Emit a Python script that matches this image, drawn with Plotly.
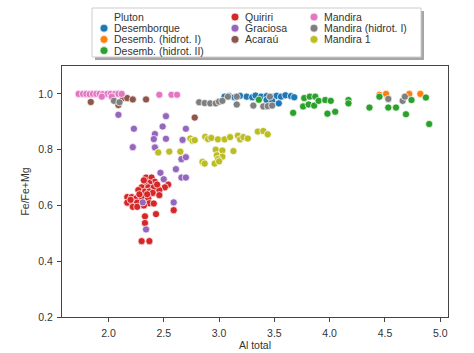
import plotly.graph_objects as go

# ---------------- data ----------------
desemborque_x = [3.05, 3.09, 3.14, 3.19, 3.25, 3.30, 3.33, 3.38, 3.43, 3.48, 3.52, 3.56, 3.60, 3.65, 3.68, 3.43, 3.48, 3.54]
desemborque_y = [0.990, 0.992, 0.988, 0.993, 0.990, 0.988, 0.994, 0.990, 0.992, 0.989, 0.993, 0.990, 0.995, 0.992, 0.988, 0.978, 0.975, 0.966]

hidrot1_x = [4.45, 4.51, 4.72, 4.82]
hidrot1_y = [0.997, 1.000, 1.000, 1.000]

hidrot2_x = [3.36, 3.77, 3.82, 3.87, 3.76, 3.81, 3.86, 3.90, 3.96, 4.01, 3.67, 3.98, 4.05, 4.17, 4.17, 4.36, 4.45, 4.53, 4.60, 4.69, 4.74, 4.87, 4.90]
hidrot2_y = [0.979, 0.985, 0.990, 0.990, 0.955, 0.962, 0.958, 0.975, 0.978, 0.975, 0.932, 0.929, 0.936, 0.978, 0.966, 0.951, 0.990, 0.951, 0.951, 0.927, 0.978, 0.987, 0.892]

quiriri_x = [2.34, 2.39, 2.42, 2.37, 2.33, 2.30, 2.36, 2.41, 2.54, 2.51, 2.46, 2.27, 2.33, 2.37, 2.40, 2.17, 2.21, 2.25, 2.30, 2.36,
             2.46, 2.17, 2.22, 2.26, 2.37, 2.41, 2.22, 2.26, 2.32, 2.59, 2.43, 2.33, 2.33, 2.30, 2.37, 2.28, 2.32, 2.44, 2.20, 2.35]
quiriri_y = [0.700, 0.700, 0.685, 0.680, 0.675, 0.665, 0.665, 0.665, 0.675, 0.665, 0.655, 0.655, 0.650, 0.650, 0.645, 0.630, 0.630, 0.625, 0.628, 0.625,
             0.637, 0.610, 0.612, 0.610, 0.608, 0.607, 0.595, 0.595, 0.600, 0.583, 0.569, 0.561, 0.537, 0.472, 0.472, 0.640, 0.690, 0.675, 0.620, 0.640]

graciosa_x = [2.09, 2.52, 2.23, 2.49, 2.70, 2.42, 2.41, 2.52, 2.67, 2.22, 2.42, 2.66, 2.70, 2.61, 2.47, 2.50, 2.66, 2.70, 2.31, 2.59, 2.34]
graciosa_y = [0.925, 0.920, 0.875, 0.883, 0.875, 0.856, 0.838, 0.839, 0.835, 0.809, 0.808, 0.766, 0.773, 0.730, 0.717, 0.694, 0.700, 0.700, 0.611, 0.611, 0.514]

acarau_x = [1.84, 2.09, 2.13, 2.17, 2.22, 2.34, 2.78]
acarau_y = [0.971, 0.960, 0.985, 0.985, 0.980, 0.980, 0.915]

mandira_x = [1.73, 1.77, 1.80, 1.83, 1.86, 1.89, 1.92, 1.95, 1.99, 2.02, 2.06, 2.09, 2.12, 1.94, 2.03, 2.46, 2.57, 2.62]
mandira_y = [1.000, 1.000, 1.000, 0.999, 1.000, 1.000, 1.000, 0.999, 1.000, 1.000, 1.000, 1.000, 1.000, 0.990, 0.990, 0.997, 0.997, 0.997]

mandira_h1_x = [2.05, 2.10, 2.82, 2.87, 2.92, 2.97, 3.00, 3.03, 3.08, 3.16, 3.16, 3.31, 3.40, 3.44, 3.48, 3.46, 4.53, 4.66, 4.68]
mandira_h1_y = [0.975, 0.970, 0.970, 0.967, 0.966, 0.966, 0.972, 0.975, 0.990, 0.962, 0.990, 0.958, 0.955, 0.956, 0.958, 0.990, 0.982, 0.975, 0.990]

mandira1_x = [2.45, 2.55, 2.65, 2.74, 2.76, 2.78, 2.875, 2.90, 2.93, 2.99, 3.05, 3.10, 3.17, 3.19, 3.22, 3.26, 3.35, 3.40, 3.44,
              2.97, 3.03, 3.13, 2.98, 3.03, 2.99, 2.85, 2.87, 2.96, 3.00]
mandira1_y = [0.790, 0.793, 0.793, 0.840, 0.832, 0.834, 0.846, 0.838, 0.842, 0.837, 0.837, 0.845, 0.850, 0.837, 0.845, 0.840, 0.865, 0.867, 0.855,
              0.800, 0.797, 0.795, 0.780, 0.775, 0.766, 0.756, 0.750, 0.750, 0.758]

x_ticks = [2.0, 2.5, 3.0, 3.5, 4.0, 4.5, 5.0]
y_ticks = [0.2, 0.4, 0.6, 0.8, 1.0]

legend_title = "Pluton"
series = [
    ("Desemborque", desemborque_x, desemborque_y, "#1f77b4"),
    ("Desemb. (hidrot. I)", hidrot1_x, hidrot1_y, "#ff7f0e"),
    ("Desemb. (hidrot. II)", hidrot2_x, hidrot2_y, "#2ca02c"),
    ("Quiriri", quiriri_x, quiriri_y, "#d62728"),
    ("Graciosa", graciosa_x, graciosa_y, "#9467bd"),
    ("Acaraú", acarau_x, acarau_y, "#8c564b"),
    ("Mandira", mandira_x, mandira_y, "#e377c2"),
    ("Mandira (hidrot. I)", mandira_h1_x, mandira_h1_y, "#7f7f7f"),
    ("Mandira 1", mandira1_x, mandira1_y, "#bcbd22"),
]

# ---------------- figure ----------------
W, H = 474, 353
ML, MR, MT, MB = 62, 26, 66, 36
PW, PH = W - ML - MR, H - MT - MB
FONT = "Liberation Sans, Arial, sans-serif"
TXT = "#333333"

fig = go.Figure()
for name, xs, ys, col in series:
    fig.add_trace(go.Scatter(
        x=xs, y=ys, mode="markers", name=name, showlegend=False,
        marker=dict(color=col, size=7.2, line=dict(color="white", width=0.7)),
    ))

axis_common = dict(
    showline=True, mirror=True, linecolor="#444", linewidth=1,
    ticks="outside", ticklen=4, tickwidth=1, tickcolor="#444",
    showgrid=False, zeroline=False, automargin=False,
    tickfont=dict(size=10.5, color=TXT, family=FONT),
    tickformat=".1f",
)

fig.update_layout(
    width=W, height=H,
    margin=dict(l=ML, r=MR, t=MT, b=MB, autoexpand=False),
    paper_bgcolor="white", plot_bgcolor="white",
    font=dict(family=FONT, size=11, color=TXT),
    xaxis=dict(range=[1.58, 5.07], tickvals=x_ticks, ticklabelstandoff=2,
               title=dict(text="Al total", font=dict(size=10.5), standoff=3), **axis_common),
    yaxis=dict(range=[0.2, 1.1], tickvals=y_ticks, ticklabelstandoff=2,
               title=dict(text="Fe/Fe+Mg", font=dict(size=10.5), standoff=6), **axis_common),
    showlegend=False,
)

# ---------------- legend drawn as layout shapes/annotations ----------------
def px2paper_x(px):
    return (px - ML) / PW

def py2paper_y(py):
    return (H - MB - py) / PH

box_l, box_r, box_t, box_b = 92, 421, 8, 57
# shadow
fig.add_shape(type="rect", xref="paper", yref="paper",
              x0=px2paper_x(box_l + 3), x1=px2paper_x(box_r + 3),
              y0=py2paper_y(box_b + 3), y1=py2paper_y(box_t + 3),
              fillcolor="rgba(0,0,0,0.35)", line=dict(width=0), layer="above")
# box
fig.add_shape(type="rect", xref="paper", yref="paper",
              x0=px2paper_x(box_l), x1=px2paper_x(box_r),
              y0=py2paper_y(box_b), y1=py2paper_y(box_t),
              fillcolor="white", line=dict(color="#cccccc", width=1), layer="above")

col_marker_x = [104, 235, 314]
row_y = [17.0, 28.2, 39.4, 50.6]
entries = [(legend_title, None)] + [(s[0], s[3]) for s in series]
layout_cols = [entries[0:4], entries[4:7], entries[7:10]]
for ci, col_entries in enumerate(layout_cols):
    for ri, (label, color) in enumerate(col_entries):
        mx, my = col_marker_x[ci], row_y[ri]
        if color is not None:
            fig.add_shape(type="circle", xref="paper", yref="paper",
                          xsizemode="pixel", ysizemode="pixel",
                          xanchor=px2paper_x(mx), yanchor=py2paper_y(my),
                          x0=-4, x1=4, y0=-4, y1=4,
                          fillcolor=color, line=dict(color="white", width=0.7),
                          layer="above")
        fig.add_annotation(xref="paper", yref="paper",
                           x=px2paper_x(mx + 9), y=py2paper_y(my),
                           xanchor="left", yanchor="middle", showarrow=False,
                           borderpad=0,
                           text=label, font=dict(size=10.5, color=TXT, family=FONT))

fig.write_html("out.html")
